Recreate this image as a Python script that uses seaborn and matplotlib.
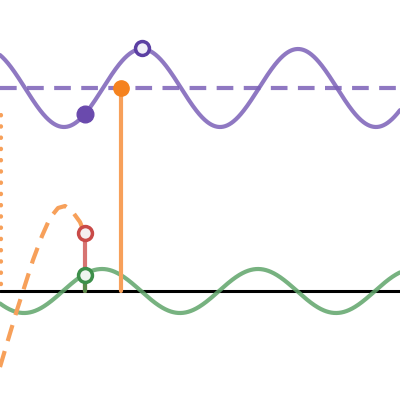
import numpy as np
import matplotlib
matplotlib.use("Agg")
import matplotlib.pyplot as plt
import seaborn as sns

sns.set_theme(style="white")

# wave parameters (pixel coordinates, y down)
purple_wave = dict(center=88, amp=39, period=156, peak_x=142)
green_wave = dict(center=291, amp=22, period=156, peak_x=102)

# orange dashed curve samples
orange_x = [0, 8, 17, 25, 33, 42, 50, 58, 65, 72, 80, 84]
orange_y = [367, 340, 310, 285, 260, 236, 218, 208, 206, 211, 222, 232]

baseline_y = 291
ref_y = 88
dotted_x, dotted_top = 1, 115
orange_stem_x, orange_stem_top = 121, 88
red_stem_x, red_top, red_bottom = 85, 233, 275
purple_pt = (85, 114)
purple_open = (142, 48)

def wave(p, x):
    return p["center"] - p["amp"] * np.cos(2 * np.pi * (x - p["peak_x"]) / p["period"])

fig = plt.figure(figsize=(4, 4), dpi=100)
ax = fig.add_axes([0, 0, 1, 1])
ax.set_xlim(0, 400)
ax.set_ylim(400, 0)
ax.axis("off")

xs = np.linspace(0, 400, 800)
ax.axhline(baseline_y, color="black", lw=2.2, zorder=2)
ax.axhline(ref_y, color="#7b61b8", lw=3, ls=(0, (4, 2.5)), alpha=0.85, zorder=2)
sns.lineplot(x=xs, y=wave(purple_wave, xs), color="#7b61b8", lw=3, alpha=0.85, ax=ax, zorder=3)
sns.lineplot(x=xs, y=wave(green_wave, xs), color="#5fa56a", lw=3, alpha=0.85, ax=ax, zorder=3)
ax.plot(orange_x, orange_y, color="#f7a05a", lw=3, ls=(0, (4, 2.5)), zorder=3)
ax.plot([dotted_x, dotted_x], [dotted_top, baseline_y], color="#f7a05a", lw=3,
        ls=(0, (0.1, 2.6)), dash_capstyle="round", zorder=3)

ax.plot([orange_stem_x, orange_stem_x], [orange_stem_top, baseline_y], color="#f7a05a", lw=3, zorder=3)
ax.plot(orange_stem_x, orange_stem_top, "o", ms=11, color="#f5821f", zorder=5)
ax.plot([red_stem_x, red_stem_x], [red_top, baseline_y], color="#d77471", lw=3, zorder=3)
ax.plot([red_stem_x, red_stem_x], [red_bottom, baseline_y], color="#5a8a4a", lw=3, zorder=3)
ax.plot(red_stem_x, red_top, "o", ms=10, mfc="#f5eef0", mec="#c94a48", mew=2.5, zorder=5)
ax.plot(red_stem_x, red_bottom, "o", ms=10, mfc="#eef5ef", mec="#3d8f4a", mew=2.5, zorder=5)
ax.plot(*purple_pt, "o", ms=12, color="#6a4aad", zorder=5)
ax.plot(*purple_open, "o", ms=10, mfc="#f0eef8", mec="#5b3fa3", mew=2.5, zorder=5)

fig.savefig("out.png", dpi=100)
